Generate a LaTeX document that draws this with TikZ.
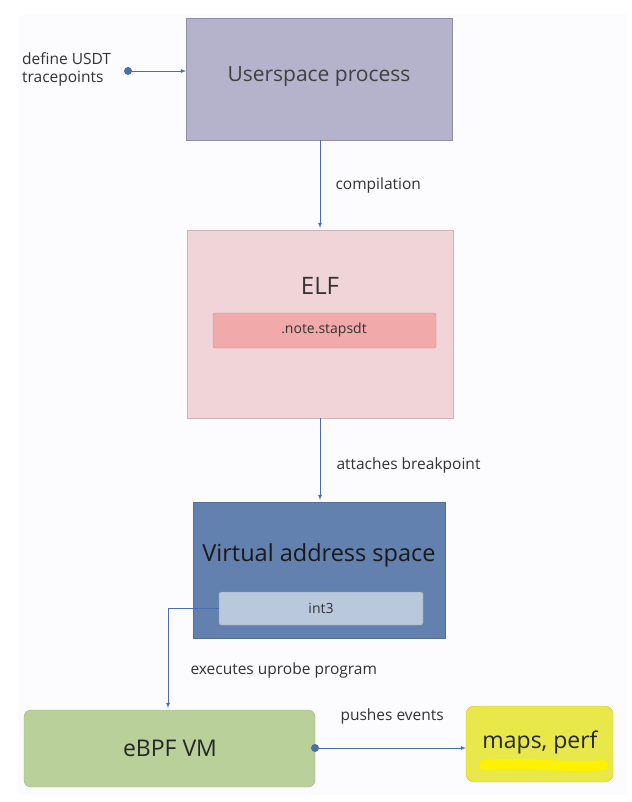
\documentclass[tikz,border=0pt]{standalone}
\usepackage{fontspec}
\setmainfont{Open Sans}
\begin{document}
\begin{tikzpicture}[x=1pt,y=-1pt,
  lbl/.style={font=\fontsize{15.5}{18}\selectfont, text=black!80, anchor=west},
  conn/.style={draw=cc, line width=0.8pt, -{latex}},
  dotc/.style={circle, fill=cc, inner sep=0pt, minimum size=8pt}]
\definecolor{cc}{HTML}{4A6EA9}
\useasboundingbox (0,0) rectangle (631,802);
\fill[white] (0,0) rectangle (631,802);
\fill[blue!1!white] (18,14) rectangle (627,795);
\definecolor{c1}{HTML}{B5B3CB}\definecolor{c2}{HTML}{F1D4D8}\definecolor{c3}{HTML}{F2A9A9}
\definecolor{c4}{HTML}{6381AE}\definecolor{c5}{HTML}{B9C8DD}\definecolor{c6}{HTML}{B9D09B}
\definecolor{c7}{HTML}{E8E84A}
\path[fill=c1,draw=c1!80!black] (186,18) rectangle (452,140);
\node[font=\fontsize{21}{24}\selectfont, text=black!75] (up) at (319,77) {Userspace process};
\coordinate (upb) at (320,140);
\node[lbl, align=left, inner sep=0pt] (def) at (22,69) {define USDT\\tracepoints};
\node[dotc] (d1) at (128,71) {};
\coordinate (upl) at (186,71);
\draw[conn] (d1) -- (upl);
\path[fill=c2,draw=c2!85!black] (187,230) rectangle (453,418);
\node[font=\fontsize{24}{27}\selectfont, text=black!80] (elf) at (320,286) {ELF};
\path[fill=c3,draw=c3!85!black,rounded corners=2pt] (213,313) rectangle (436,348);
\node[font=\fontsize{14}{16}\selectfont, text=black!80] (note) at (324,330) {.note.stapsdt};
\coordinate (elft) at (320,228);
\draw[conn] (upb) -- (elft);
\node[lbl] (comp) at (332,185) {compilation};
\coordinate (elfb) at (320,418);
\coordinate (vat) at (320,500);
\draw[conn] (elfb) -- (vat);
\node[lbl] (att) at (333,465) {attaches breakpoint};
\path[fill=c4,draw=c4!85!black] (193,502) rectangle (445,638);
\node[font=\fontsize{23.5}{27}\selectfont, text=black!90] (va) at (319,555) {Virtual address space};
\path[fill=c5,draw=c5!80!black,rounded corners=2pt] (219,592) rectangle (423,625);
\node[font=\fontsize{14}{16}\selectfont, text=black!80] (int) at (321,608) {int3};
\coordinate (intl) at (219,608);
\coordinate (vmt) at (168,708);
\draw[conn] (intl) -- (168,608) -- (vmt);
\node[lbl] (exe) at (187,670) {executes uprobe program};
\path[fill=c6,draw=c6!85!black,rounded corners=7pt] (24,710) rectangle (315,787);
\node[font=\fontsize{23}{26}\selectfont, text=black!85] (vm) at (170,748) {eBPF VM};
\node[dotc] (d2) at (315,748) {};
\coordinate (mpl) at (466,748);
\draw[conn] (d2) -- (mpl);
\node[lbl] (push) at (337,716) {pushes events};
\path[fill=c7,draw=c7!85!black,rounded corners=8pt] (466,706) rectangle (613,782);
\draw[yellow, line width=10pt, line cap=round] (484,765) .. controls (530,761) and (570,769) .. (603,765);
\node[font=\fontsize{23}{26}\selectfont, text=black!85] (mp) at (540,742) {maps, perf};
\end{tikzpicture}
\end{document}
